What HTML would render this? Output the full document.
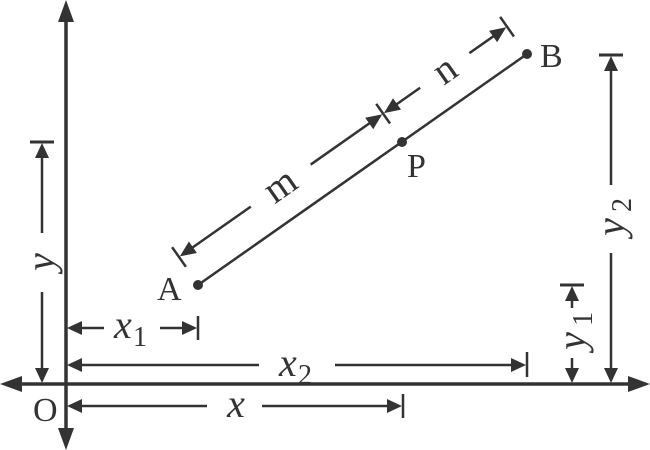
<!DOCTYPE html>
<html><head><meta charset="utf-8"><style>
html,body{margin:0;padding:0;background:#fff;}
svg{display:block;}
text{font-family:"Liberation Serif","DejaVu Serif",serif;fill:#333;}
.i{font-style:italic;}
</style></head><body>
<svg width="650" height="450" viewBox="0 0 650 450" xmlns="http://www.w3.org/2000/svg">
<g stroke="#333" fill="none">
<line x1="66" y1="18" x2="66" y2="432" stroke-width="3.5"/>
<line x1="14" y1="384" x2="636" y2="384" stroke-width="3.5"/>
<line x1="198" y1="285" x2="527" y2="54" stroke-width="2.5"/>
<line x1="30" y1="142" x2="54" y2="142" stroke-width="3"/>
<line x1="42" y1="150" x2="42" y2="233" stroke-width="2.5"/>
<line x1="42" y1="292" x2="42" y2="370" stroke-width="2.5"/>
<line x1="599" y1="55" x2="623" y2="55" stroke-width="3"/>
<line x1="611" y1="62" x2="611" y2="185" stroke-width="2.5"/>
<line x1="611" y1="253" x2="611" y2="370" stroke-width="2.5"/>
<line x1="560" y1="285" x2="584" y2="285" stroke-width="3"/>
<line x1="572" y1="295" x2="572" y2="308" stroke-width="2.5"/>
<line x1="572" y1="358" x2="572" y2="372" stroke-width="2.5"/>
<line x1="75" y1="328" x2="104" y2="328" stroke-width="2.5"/>
<line x1="160" y1="328" x2="188" y2="328" stroke-width="2.5"/>
<line x1="198" y1="316" x2="198" y2="340" stroke-width="2.5"/>
<line x1="75" y1="365" x2="259" y2="365" stroke-width="2.5"/>
<line x1="335" y1="365" x2="516" y2="365" stroke-width="2.5"/>
<line x1="527" y1="352" x2="527" y2="377" stroke-width="2.5"/>
<line x1="75" y1="406" x2="207" y2="406" stroke-width="2.5"/>
<line x1="262" y1="406" x2="392" y2="406" stroke-width="2.5"/>
<line x1="403" y1="394" x2="403" y2="418" stroke-width="2.5"/>
</g>
<g fill="#333">
<polygon points="66,0 58,22 74,22"/>
<polygon points="66,450 58,428 74,428"/>
<polygon points="0,384 22,376 22,392"/>
<polygon points="650,384 628,376 628,392"/>
<polygon points="42,143 35,158 49,158"/>
<polygon points="42,383 35,368 49,368"/>
<polygon points="611,56 604,71 618,71"/>
<polygon points="611,383 604,368 618,368"/>
<polygon points="572,286 565,301 579,301"/>
<polygon points="572,383 565,368 579,368"/>
<polygon points="67,328 82,321 82,335"/>
<polygon points="197,328 182,321 182,335"/>
<polygon points="67,365 82,358 82,372"/>
<polygon points="526,365 511,358 511,372"/>
<polygon points="67,406 82,399 82,413"/>
<polygon points="402,406 387,399 387,413"/>
<circle cx="198" cy="285" r="5"/>
<circle cx="402" cy="142" r="5"/>
<circle cx="527" cy="54" r="5"/>
</g>
<g transform="translate(179,257) rotate(-35.07)">
<g stroke="#333" stroke-width="2.5">
<line x1="0" y1="-12" x2="0" y2="12"/>
<line x1="249.4" y1="-12" x2="249.4" y2="12"/>
<line x1="400.8" y1="-12" x2="400.8" y2="12"/>
<line x1="10" y1="0" x2="87.7" y2="0"/>
<line x1="160.9" y1="0" x2="238" y2="0"/>
<line x1="262" y1="0" x2="294.6" y2="0"/>
<line x1="354.8" y1="0" x2="390" y2="0"/>
</g>
<g fill="#333">
<polygon points="1,0 17,-7 17,7"/>
<polygon points="248.4,0 232.4,-7 232.4,7"/>
<polygon points="250.4,0 266.4,-7 266.4,7"/>
<polygon points="399.8,0 383.8,-7 383.8,7"/>
</g>
<text x="124" y="12" font-size="40" text-anchor="middle">m</text>
<text x="325" y="12" font-size="40" text-anchor="middle">n</text>
</g>
<text x="157" y="300" font-size="34">A</text>
<text x="407" y="177" font-size="34">P</text>
<text x="540" y="67" font-size="34">B</text>
<text x="33" y="421" font-size="34">O</text>
<text class="i" x="114" y="338" font-size="40">x</text>
<text x="133" y="346" font-size="28">1</text>
<text class="i" x="279" y="376" font-size="40">x</text>
<text x="298" y="384" font-size="28">2</text>
<text class="i" x="236" y="417" font-size="40" text-anchor="middle">x</text>
<g transform="translate(54,262) rotate(-90)"><text class="i" x="0" y="0" font-size="40" text-anchor="middle">y</text></g>
<g transform="translate(624,219) rotate(-90)"><text class="i" x="-8" y="0" font-size="40" text-anchor="middle">y</text><text x="7" y="7" font-size="28">2</text></g>
<g transform="translate(585,333) rotate(-90)"><text class="i" x="-8" y="0" font-size="40" text-anchor="middle">y</text><text x="7" y="7" font-size="28">1</text></g>
</svg>
</body></html>
